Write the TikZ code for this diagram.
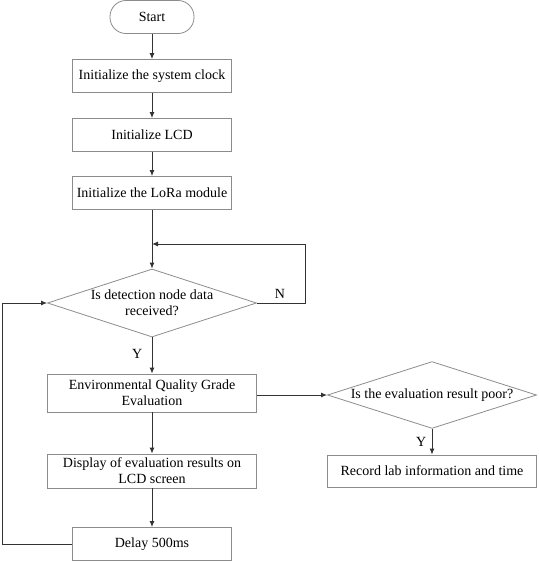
\documentclass[tikz,border=0pt]{standalone}
\usepackage{fontspec}
\setmainfont{Liberation Serif}
\usetikzlibrary{shapes.geometric,arrows.meta}

\begin{document}
\begin{tikzpicture}[x=1pt,y=-1pt,font=\fontsize{14}{16}\selectfont,
  box/.style={rectangle,draw=black!45,line width=0.8pt,minimum width=159pt,minimum height=33pt,align=center,inner sep=1pt},
  wbox/.style={box,minimum width=209pt,minimum height=34pt},
  test/.style={diamond,draw=black!45,line width=0.8pt,minimum width=209pt,minimum height=68pt,inner sep=0pt,aspect=3,align=center},
  arr/.style={draw=black!80,line width=1pt,-{Latex[length=6pt,width=5pt]}}]
  \useasboundingbox (0,0) rectangle (538,562);
  \node[box,rounded corners=16pt,minimum width=84pt] (start) at (152,17) {Start};
  \node[box] (clock) at (152,76) {Initialize the system clock};
  \node[box] (lcd) at (152,135) {Initialize LCD};
  \node[box] (lora) at (152,193) {Initialize the LoRa module};
  \node[test] (recv) at (152,303) {Is detection node data\\received?};
  \node[wbox,minimum height=38pt] (grade) at (152,393) {Environmental Quality Grade\\Evaluation};
  \node[wbox] (show) at (152,471) {Display of evaluation results on\\LCD screen};
  \node[box] (delay) at (152,544) {Delay 500ms};
  \node[test,minimum height=66pt] (poor) at (432,395) {Is the evaluation result poor?};
  \node[wbox,minimum height=32pt] (record) at (432,471) {Record lab information and time};
  \coordinate (join) at (152,244);
  \coordinate (nturn) at (305,244);
  \coordinate (back) at (2,544);
  \draw[arr] (start) -- (clock);
  \draw[arr] (clock) -- (lcd);
  \draw[arr] (lcd) -- (lora);
  \draw[arr] (lora) -- (recv);
  \draw[arr] (recv.east) -| (nturn) -- (join);
  \node (n) at (280,294) {N};
  \draw[arr] (recv) -- node[left=6pt,pos=0.45] (y1) {Y} (grade);
  \draw[arr] (grade) -- (show);
  \draw[arr] (show) -- (delay);
  \draw[arr] (delay.west) -- (back) |- (recv.west);
  \draw[arr] (grade.east |- poor.west) -- (poor.west);
  \draw[arr] (poor) -- node[left=2pt] (y2) {Y} (record);
\end{tikzpicture}
\end{document}
